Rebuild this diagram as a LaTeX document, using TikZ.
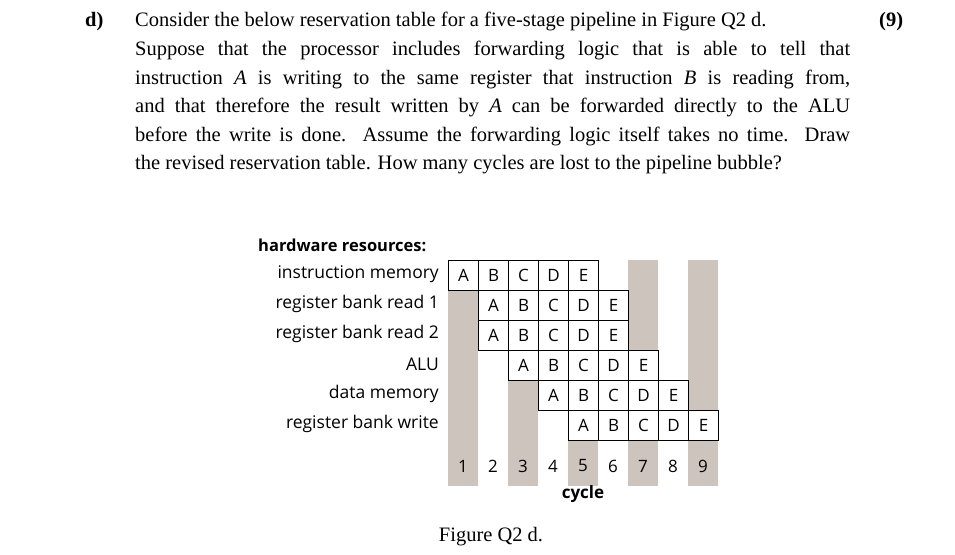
\documentclass[tikz,border=0pt]{standalone}
\usepackage{fontspec}
\setmainfont{Liberation Serif}
\newfontfamily\tabfont{Open Sans}
\begin{document}
\begin{tikzpicture}[x=1pt,y=-1pt,
  para/.style={anchor=north west,inner sep=0pt,text width=715pt,align=justify,font=\fontsize{20.5}{24}\selectfont},
  cell/.style={draw=black,line width=1pt,fill=white,minimum width=30pt,minimum height=30pt,inner sep=0pt,anchor=north west,font=\tabfont\fontsize{17}{20}\selectfont},
  lbl/.style={anchor=east,inner sep=0pt,font=\tabfont\fontsize{17.5}{20}\selectfont},
  shade/.style={fill=shadec,draw=none}]
\definecolor{shadec}{RGB}{205,196,189}
\useasboundingbox (0,0) rectangle (955,554);
\node[anchor=north west,inner sep=0pt,font=\fontsize{20.5}{24}\selectfont\bfseries] (d) at (85,12) {d)};
\node[anchor=north west,inner sep=0pt,font=\fontsize{20.5}{24}\selectfont\bfseries] (nine) at (879,12) {(9)};
\node[anchor=north west,inner sep=0pt,font=\fontsize{20.5}{24}\selectfont] (l1) at (135,12) {Consider the below reservation table for a five-stage pipeline in Figure Q2 d.};
\node[para] (l2) at (135,41) {Suppose that the processor includes forwarding logic that is able to tell that{\parfillskip=0pt\par}};
\node[para] (l3) at (135,70) {instruction \textit{A} is writing to the same register that instruction \textit{B} is reading from,{\parfillskip=0pt\par}};
\node[para] (l4) at (135,98) {and that therefore the result written by \textit{A} can be forwarded directly to the ALU{\parfillskip=0pt\par}};
\node[para] (l5) at (135,127) {before the write is done. Assume the forwarding logic itself takes no time. Draw{\parfillskip=0pt\par}};
\node[anchor=north west,inner sep=0pt,font=\fontsize{20.5}{24}\selectfont] (l6) at (135,155) {the revised reservation table. How many cycles are lost to the pipeline bubble?};
% shaded columns
\foreach \c in {1,3,5,7,9}{
  \fill[shade] ({448+30*(\c-1)},260) rectangle ({448+30*\c},486);
}
\node[anchor=west,inner sep=0pt,font=\tabfont\bfseries\fontsize{16.5}{20}\selectfont] (hw) at (258,245) {hardware resources:};
\foreach \r/\s/\t in {1/1/instruction memory,2/2/register bank read 1,3/2/register bank read 2,4/3/ALU,5/4/data memory,6/5/register bank write}{
  \node[lbl] (lab\r) at (439,{260+30*(\r-1)+14}) {\t};
  \foreach \k/\n in {0/A,1/B,2/C,3/D,4/E}{
    \node[cell] (c\r\n) at ({448+30*(\s+\k-1)},{260+30*(\r-1)}) {\n};
  }
}
\foreach \c in {1,...,9}{
  \node[inner sep=0pt,font=\tabfont\fontsize{17}{20}\selectfont] (n\c) at ({433+30*\c},466) {\c};
}
\node[inner sep=0pt,font=\tabfont\bfseries\fontsize{17}{20}\selectfont] (cyc) at (583,494) {cycle};
\node[inner sep=0pt,font=\fontsize{20.5}{24}\selectfont] (fig) at (491,537) {Figure Q2 d.};
\end{tikzpicture}
\end{document}
